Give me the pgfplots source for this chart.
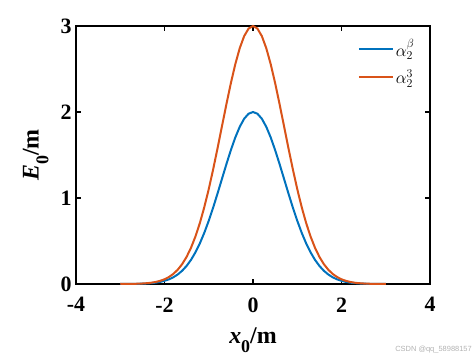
\documentclass[border=0pt]{standalone}
\usepackage{fontspec}
\setmainfont{Liberation Serif}
\newfontfamily\wmfont{Liberation Sans}
\usepackage{pgfplots}
\usetikzlibrary{calc}
\pgfplotsset{compat=1.18}
\definecolor{mblue}{rgb}{0,0.447,0.741}
\definecolor{morange}{rgb}{0.85,0.325,0.098}
\begin{document}
\begin{tikzpicture}
\begin{axis}[
  scale only axis,
  width=354bp, height=258bp,
  xmin=-4, xmax=4, ymin=0, ymax=3,
  xtick={-4,-2,0,2,4}, ytick={0,1,2,3},
  xticklabels={-4,-2,0,2,4}, yticklabels={0,1,2,3},
  tick align=inside, major tick length=5bp,
  tick style={line width=1.2bp,black},
  axis line style={line width=1.5bp,black},
  ticklabel style={font=\fontsize{22}{22}\selectfont\bfseries},
  xticklabel style={yshift=-10bp},
  yticklabel style={xshift=-1bp},
  xlabel={\fontsize{24}{24}\selectfont\bfseries\textit{x}\raisebox{-0.4em}{\fontsize{18}{18}\selectfont 0}/m},
  ylabel={\fontsize{24}{24}\selectfont\bfseries\textit{E}\raisebox{-0.4em}{\fontsize{18}{18}\selectfont 0}/m},
  xlabel style={at={(rel axis cs:0.5,0)},anchor=north,yshift=-40bp},
  ylabel style={at={(rel axis cs:0,0.5)},anchor=south,yshift=24bp},
  clip=false,
  legend style={at={(rel axis cs:0.965,0.96)},anchor=north east,draw=none,fill=none,
    font=\fontsize{18}{18}\selectfont,row sep=8bp,inner sep=1bp},
  legend cell align=left,
  legend image code/.code={\draw[#1] (0bp,0bp) -- (34bp,0bp);},
]
\addplot[mblue, line width=2bp] coordinates {
(-3.0,0.0002)(-2.9,0.0004)(-2.8,0.0008)(-2.7,0.0014)(-2.6,0.0023)(-2.5,0.0039)
(-2.4,0.0063)(-2.3,0.0101)(-2.2,0.0158)(-2.1,0.0243)(-2.0,0.0366)(-1.9,0.0541)
(-1.8,0.0783)(-1.7,0.1112)(-1.6,0.1546)(-1.5,0.2108)(-1.4,0.2817)(-1.3,0.3690)
(-1.2,0.4739)(-1.1,0.5964)(-1.0,0.7358)(-0.9,0.8897)(-0.8,1.0546)(-0.7,1.2253)
(-0.6,1.3954)(-0.5,1.5576)(-0.4,1.7043)(-0.3,1.8279)(-0.2,1.9216)(-0.1,1.9801)
(0.0,2.0000)
(0.1,1.9801)(0.2,1.9216)(0.3,1.8279)(0.4,1.7043)(0.5,1.5576)(0.6,1.3954)
(0.7,1.2253)(0.8,1.0546)(0.9,0.8897)(1.0,0.7358)(1.1,0.5964)(1.2,0.4739)
(1.3,0.3690)(1.4,0.2817)(1.5,0.2108)(1.6,0.1546)(1.7,0.1112)(1.8,0.0783)
(1.9,0.0541)(2.0,0.0366)(2.1,0.0243)(2.2,0.0158)(2.3,0.0101)(2.4,0.0063)
(2.5,0.0039)(2.6,0.0023)(2.7,0.0014)(2.8,0.0008)(2.9,0.0004)(3.0,0.0002)
};
\addlegendentry{$\alpha_2^\beta$}
\addplot[morange, line width=2bp] coordinates {
(-3.0,0.0004)(-2.9,0.0007)(-2.8,0.0012)(-2.7,0.0020)(-2.6,0.0035)(-2.5,0.0058)
(-2.4,0.0095)(-2.3,0.0151)(-2.2,0.0237)(-2.1,0.0365)(-2.0,0.0550)(-1.9,0.0812)
(-1.8,0.1175)(-1.7,0.1667)(-1.6,0.2319)(-1.5,0.3162)(-1.4,0.4226)(-1.3,0.5536)
(-1.2,0.7108)(-1.1,0.8946)(-1.0,1.1036)(-0.9,1.3346)(-0.8,1.5819)(-0.7,1.8379)
(-0.6,2.0930)(-0.5,2.3364)(-0.4,2.5564)(-0.3,2.7418)(-0.2,2.8824)(-0.1,2.9702)
(0.0,3.0000)
(0.1,2.9702)(0.2,2.8824)(0.3,2.7418)(0.4,2.5564)(0.5,2.3364)(0.6,2.0930)
(0.7,1.8379)(0.8,1.5819)(0.9,1.3346)(1.0,1.1036)(1.1,0.8946)(1.2,0.7108)
(1.3,0.5536)(1.4,0.4226)(1.5,0.3162)(1.6,0.2319)(1.7,0.1667)(1.8,0.1175)
(1.9,0.0812)(2.0,0.0550)(2.1,0.0365)(2.2,0.0237)(2.3,0.0151)(2.4,0.0095)
(2.5,0.0058)(2.6,0.0035)(2.7,0.0020)(2.8,0.0012)(2.9,0.0007)(3.0,0.0004)
};
\addlegendentry{$\alpha_2^3$}
\path (rel axis cs:0,0) ++(-76bp,-71bp) coordinate (bbsw);
\path (rel axis cs:1,1) ++(44bp,26bp) coordinate (bbne);
\path (bbsw) rectangle (bbne);
\node[anchor=south east,inner sep=0pt,text=black!30,font=\wmfont\fontsize{7.5}{7.5}\selectfont] at ($(rel axis cs:1,0)+(42bp,-69bp)$) {CSDN @qq\_58988157};
\end{axis}
\end{tikzpicture}
\end{document}
